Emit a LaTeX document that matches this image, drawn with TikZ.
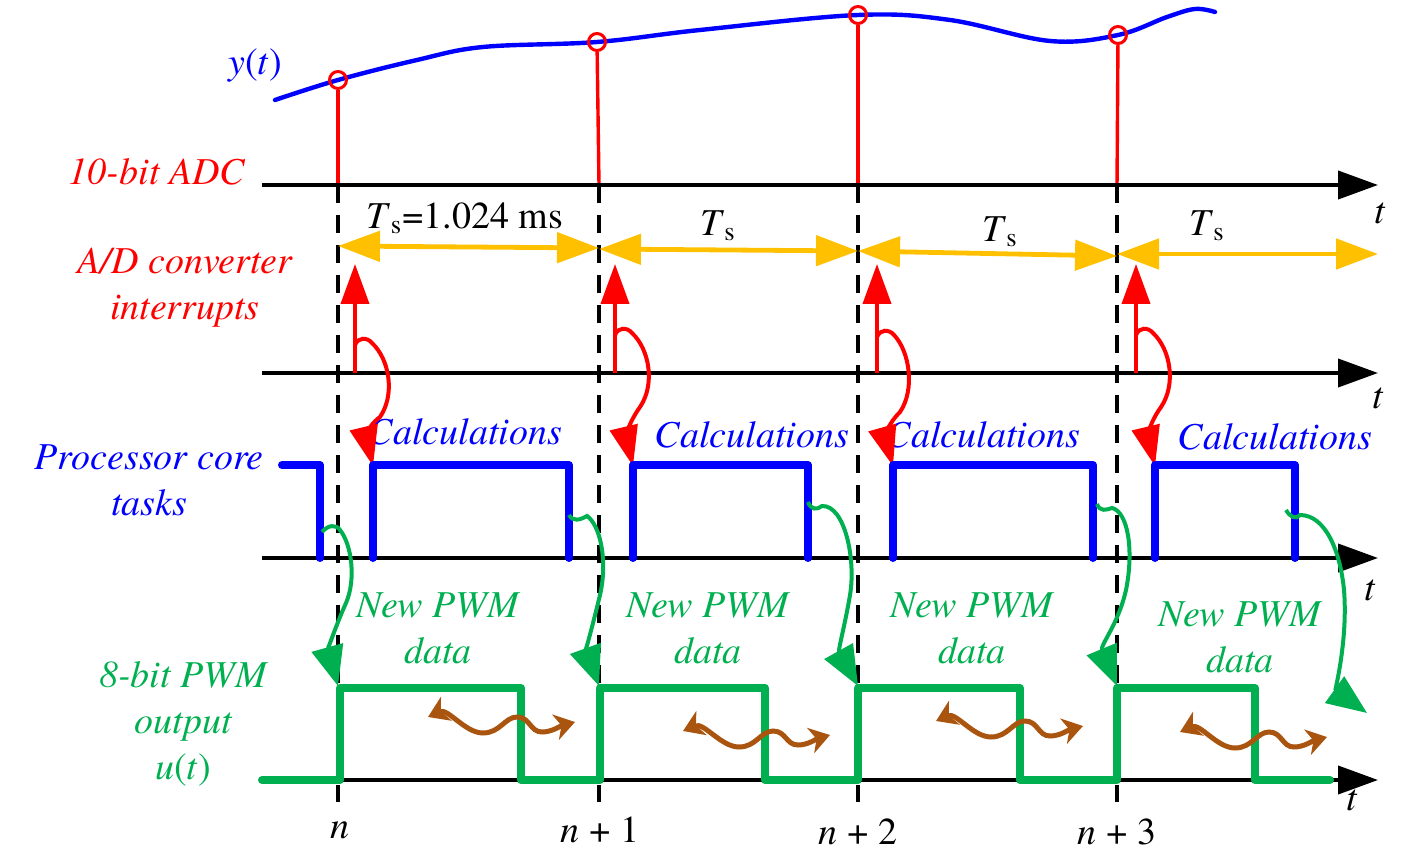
\documentclass[tikz,border=0pt]{standalone}
\usepackage{fontspec}
\setmainfont{TeX Gyre Termes}
\usetikzlibrary{arrows.meta}
\definecolor{adcred}{RGB}{255,0,0}
\definecolor{coreblue}{RGB}{0,0,255}
\definecolor{pwmgreen}{RGB}{0,176,80}
\definecolor{tsyellow}{RGB}{255,192,0}
\definecolor{jitbrown}{RGB}{170,85,15}
\tikzset{
  txt/.style={font=\fontsize{19}{23}\selectfont,align=center,inner sep=1pt},
  lbl/.style={txt,font=\fontsize{19}{23}\selectfont\itshape},
  axis/.style={line width=2pt,-{Triangle[length=20pt,width=14pt]}},
  grid/.style={line width=1.6pt,dash pattern=on 9pt off 6pt},
  yline/.style={coreblue,line width=2.2pt,line cap=round},
  stem/.style={adcred,line width=1.7pt},
  smp/.style={circle,draw=adcred,line width=1.5pt,inner sep=0pt,minimum size=8.5pt},
  period/.style={tsyellow,line width=2.4pt,{Triangle[length=21pt,width=15pt]}-{Triangle[length=21pt,width=15pt]}},
  intr/.style={adcred,line width=2pt,-{Triangle[length=20pt,width=14pt]}},
  core/.style={coreblue,line width=4pt,line join=round,line cap=round},
  pwm/.style={pwmgreen,line width=4pt,line join=round,line cap=round},
  newdata/.style={pwmgreen,line width=2pt,-{Triangle[length=20pt,width=16pt]}},
  jitter/.style={jitbrown,line width=2.5pt,{Stealth[length=10pt,width=13pt,inset=3pt]}-{Stealth[length=10pt,width=13pt,inset=3pt]}}
}
\begin{document}
\begin{tikzpicture}[x=0.5pt,y=-0.5pt]
  \useasboundingbox (0,0) rectangle (1416,865);
  \draw
    (262,185) coordinate (adc0) (1378,185) coordinate (adc1)
    (262,373) coordinate (int0) (1378,373) coordinate (int1)
    (262,558) coordinate (cor0) (1378,558) coordinate (cor1)
    (262,780) coordinate (pwm0) (1378,780) coordinate (pwm1)
    (338,185) coordinate (k0) (338,802) coordinate (m0)
    (599,185) coordinate (k1) (599,802) coordinate (m1)
    (858,185) coordinate (k2) (858,802) coordinate (m2)
    (1117,185) coordinate (k3) (1117,802) coordinate (m3);
  \draw
    (255,66) node[txt,coreblue] (ylab){\textit{y}(\textit{t})}
    (157,172) node[lbl,adcred] (adclab){10-bit ADC}
    (185,288) node[lbl,adcred] (intlab){A/D converter\\interrupts}
    (149,480) node[lbl,coreblue] (corelab){Processor core\\tasks}
    (183,724) node[lbl,pwmgreen] (pwmlab){8-bit PWM\\output\\\textit{u}\textup{(}\textit{t}\textup{)}}
    (1380,213) node[txt] (ta0){\textit{t}}
    (1378,398) node[txt] (ta1){\textit{t}}
    (1370,590) node[txt] (ta2){\textit{t}}
    (1352,800) node[txt] (ta3){\textit{t}}
    (340,830) node[txt] (n0){\textit{n}}
    (600,830) node[txt] (n1){\textit{n} + 1}
    (858,832) node[txt] (n2){\textit{n} + 2}
    (1117,832) node[txt] (n3){\textit{n} + 3}
    (465,218) node[txt] (ts0){\textit{T}\textsubscript{s}=1.024 ms}
    (718,226) node[txt] (ts1){\textit{T}\textsubscript{s}}
    (1000,232) node[txt] (ts2){\textit{T}\textsubscript{s}}
    (1207,226) node[txt] (ts3){\textit{T}\textsubscript{s}}
    (465,432) node[lbl,coreblue] (calc0){Calculations}
    (752,435) node[lbl,coreblue] (calc1){Calculations}
    (983,435) node[lbl,coreblue] (calc2){Calculations}
    (1275,437) node[lbl,coreblue] (calc3){Calculations}
    (438,628) node[lbl,pwmgreen] (new0){New PWM\\data}
    (708,628) node[lbl,pwmgreen] (new1){New PWM\\data}
    (972,628) node[lbl,pwmgreen] (new2){New PWM\\data}
    (1240,637) node[lbl,pwmgreen] (new3){New PWM\\data};
  \draw[yline] plot[smooth,tension=0.6] coordinates {(275,100) (338,80) (417,60) (483,47) (597,42) (700,30) (858,15) (950,20) (1050,41) (1118,35) (1167,17) (1195,9) (1215,12)};
  \draw
    (338,80) node[smp] (smp0){}
    (597,42) node[smp] (smp1){}
    (858,15) node[smp] (smp2){}
    (1118,35) node[smp] (smp3){};
  \draw[stem] (smp0) -- (k0);
  \draw[stem] (smp1) -- (k1);
  \draw[stem] (smp2) -- (k2);
  \draw[stem] (smp3) -- (k3);
  \draw[grid] (k0) -- (m0);
  \draw[grid] (k1) -- (m1);
  \draw[grid] (k2) -- (m2);
  \draw[grid] (k3) -- (m3);
  \draw[axis] (adc0) -- (adc1);
  \draw[axis] (int0) -- (int1);
  \draw[axis] (cor0) -- (cor1);
  \draw[axis] (pwm0) -- (pwm1);
  \draw
    (338,246) coordinate (p0) (599,248) coordinate (q0)
    (599,249) coordinate (p1) (858,251) coordinate (q1)
    (858,251) coordinate (p2) (1117,256) coordinate (q2)
    (1117,254) coordinate (p3) (1378,254) coordinate (q3);
  \draw[period] (p0) -- (q0);
  \draw[period] (p1) -- (q1);
  \draw[period] (p2) -- (q2);
  \draw[period] (p3) -- (q3);
  \draw
    (355,373) coordinate (i0) (355,264) coordinate (j0) (355,345) coordinate (h0) (373,466) coordinate (r0)
    (615,373) coordinate (i1) (615,264) coordinate (j1) (615,335) coordinate (h1) (633,466) coordinate (r1)
    (877,373) coordinate (i2) (877,264) coordinate (j2) (877,337) coordinate (h2) (893,466) coordinate (r2)
    (1136,373) coordinate (i3) (1136,264) coordinate (j3) (1136,335) coordinate (h3) (1155,466) coordinate (r3);
  \draw[intr] (i0) -- (j0);
  \draw[intr] (i1) -- (j1);
  \draw[intr] (i2) -- (j2);
  \draw[intr] (i3) -- (j3);
  \draw[intr] (h0) .. controls (358,337) and (367,337) .. (372,343) .. controls (390,360) and (395,395) .. (380,417) .. controls (365,428) and (367,441) .. (r0);
  \draw[intr] (h1) .. controls (618,327) and (627,327) .. (632,333) .. controls (650,350) and (655,385) .. (640,407) .. controls (625,428) and (627,441) .. (r1);
  \draw[intr] (h2) .. controls (880,329) and (889,329) .. (894,335) .. controls (910,352) and (915,390) .. (900,412) .. controls (884,428) and (886,441) .. (r2);
  \draw[intr] (h3) .. controls (1139,327) and (1148,327) .. (1153,333) .. controls (1171,350) and (1176,385) .. (1161,407) .. controls (1146,428) and (1149,441) .. (r3);
  \draw[core] (282,465) -| (320,558) (373,558) |- (569,465) -- (569,558) (633,558) |- (808,465) -- (808,558) (893,558) |- (1093,465) -- (1093,558) (1155,558) |- (1295,465) -- (1295,558);
  \draw[pwm] (262,780) -| (340,688) -| (521,780) -| (600,688) -| (765,780) -| (858,688) -| (1020,780) -| (1117,688) -| (1255,780) -- (1330,780);
  \draw
    (322,532) coordinate (f0) (338,686) coordinate (u0)
    (569,515) coordinate (f1) (599,686) coordinate (u1)
    (808,502) coordinate (f2) (858,686) coordinate (u2)
    (1097,504) coordinate (f3) (1117,686) coordinate (u3)
    (1286,510) coordinate (f4) (1367,713) coordinate (u4);
  \draw[newdata] (f0) .. controls (328,525) and (336,524) .. (340,530) .. controls (352,545) and (356,580) .. (346,603) .. controls (336,625) and (328,650) .. (u0);
  \draw[newdata] (f1) .. controls (573,522) and (580,520) .. (587,516) .. controls (600,525) and (608,560) .. (600,595) .. controls (594,620) and (586,650) .. (u1);
  \draw[newdata] (f2) .. controls (811,510) and (817,510) .. (822,506) .. controls (845,505) and (856,560) .. (850,595) .. controls (845,625) and (838,650) .. (u2);
  \draw[newdata] (f3) .. controls (1100,512) and (1106,510) .. (1112,508) .. controls (1128,512) and (1134,550) .. (1126,590) .. controls (1118,625) and (1100,645) .. (u3);
  \draw[newdata] (f4) .. controls (1290,517) and (1296,520) .. (1300,515) .. controls (1325,515) and (1340,550) .. (1344,590) .. controls (1348,640) and (1335,690) .. (u4);
  \draw
    (428,717) coordinate (w0) (575,722) coordinate (v0)
    (683,731) coordinate (w1) (830,735) coordinate (v1)
    (936,721) coordinate (w2) (1083,726) coordinate (v2)
    (1180,732) coordinate (w3) (1327,737) coordinate (v3);
  \draw[jitter] (w0) .. controls (448,708) and (465,733) .. (483,733) .. controls (500,733) and (505,717) .. (517,717) .. controls (530,717) and (530,732) .. (542,732) .. controls (552,732) and (560,726) .. (v0);
  \draw[jitter] (w1) .. controls (704,722) and (721,747) .. (739,747) .. controls (756,747) and (761,731) .. (773,731) .. controls (786,731) and (786,745) .. (798,745) .. controls (808,745) and (816,739) .. (v1);
  \draw[jitter] (w2) .. controls (956,712) and (973,737) .. (991,737) .. controls (1008,737) and (1013,721) .. (1025,721) .. controls (1038,721) and (1038,736) .. (1050,736) .. controls (1060,736) and (1068,730) .. (v2);
  \draw[jitter] (w3) .. controls (1200,723) and (1217,748) .. (1235,748) .. controls (1252,748) and (1257,732) .. (1269,732) .. controls (1282,732) and (1282,747) .. (1294,747) .. controls (1304,747) and (1312,741) .. (v3);
\end{tikzpicture}
\end{document}
